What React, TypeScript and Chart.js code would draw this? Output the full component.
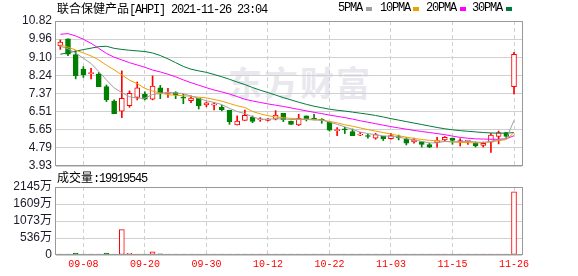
import React, { useEffect, useRef } from 'react';
import { Chart, registerables } from 'chart.js';

Chart.register(...registerables);

const dates = ['09-02','09-03','09-07','09-08','09-09','09-10','09-13','09-14','09-15','09-16','09-17','09-20','09-21','09-22','09-23','09-24','09-27','09-28','09-29','09-30','10-01','10-04','10-05','10-06','10-07','10-08','10-11','10-12','10-13','10-14','10-15','10-18','10-19','10-20','10-21','10-22','10-25','10-26','10-27','10-28','10-29','11-01','11-02','11-03','11-04','11-05','11-08','11-09','11-10','11-11','11-12','11-15','11-16','11-17','11-18','11-19','11-22','11-23','11-24','11-26'];

const opens = [9.63,9.97,9.22,8.54,8.32,8.30,7.70,7.02,6.53,6.80,7.19,7.34,7.10,7.64,7.38,7.42,7.21,7.04,7.15,6.83,6.82,6.72,6.58,5.88,6.10,6.24,6.12,6.10,6.15,6.43,6.05,5.88,6.31,6.20,6.13,6.02,5.61,5.67,5.56,5.39,5.36,5.25,5.34,5.23,5.33,5.21,5.07,5.09,4.95,5.04,5.17,5.26,5.07,5.10,5.01,4.91,5.06,5.33,5.52,7.70];
const highs = [9.92,9.97,9.41,8.65,8.57,8.37,7.78,7.07,8.45,7.50,7.92,7.46,8.21,7.76,7.62,7.46,7.34,7.27,7.15,6.97,6.94,6.81,6.58,6.31,6.59,6.31,6.23,6.20,6.56,6.43,6.07,6.39,6.31,6.39,6.18,6.02,5.75,5.77,5.69,5.53,5.44,5.48,5.34,5.48,5.40,5.28,5.26,5.09,5.01,5.29,5.33,5.26,5.23,5.14,5.07,5.07,5.48,5.59,5.52,9.33];
const lows = [9.47,9.17,8.07,8.14,8.07,7.70,6.99,6.42,6.23,6.72,7.07,7.07,7.07,7.13,7.19,7.13,6.89,6.94,6.64,6.74,6.59,6.55,5.91,5.88,6.10,5.99,6.05,6.07,6.12,6.04,5.90,5.85,6.07,6.12,5.96,5.59,5.37,5.47,5.37,5.37,5.25,5.20,5.14,5.20,5.17,4.93,5.01,4.83,4.80,4.83,5.10,4.96,4.88,4.95,4.83,4.83,4.58,4.98,5.25,7.35];
const closes = [9.82,9.24,8.22,8.26,8.35,7.70,7.07,6.42,7.15,7.38,7.65,7.10,7.73,7.35,7.43,7.32,7.15,7.16,6.78,6.93,6.88,6.59,6.04,6.07,6.34,6.05,6.15,6.16,6.35,6.12,5.90,6.20,6.16,6.12,6.11,5.63,5.64,5.65,5.37,5.45,5.33,5.42,5.23,5.37,5.26,5.01,5.17,4.96,4.83,5.14,5.29,5.14,5.14,5.12,4.88,5.01,5.40,5.52,5.33,9.24];

const ma5 = [9.62,9.50,9.30,9.05,8.80,8.42,8.02,7.64,7.42,7.22,7.15,7.15,7.33,7.38,7.43,7.40,7.37,7.25,7.14,7.03,6.95,6.85,6.67,6.52,6.42,6.27,6.15,6.15,6.18,6.16,6.14,6.14,6.14,6.12,6.10,6.02,5.91,5.79,5.67,5.54,5.47,5.42,5.36,5.34,5.30,5.23,5.17,5.10,5.03,5.03,5.10,5.08,5.09,5.11,5.07,5.05,5.10,5.18,5.23,6.10];
const ma10 = [9.68,9.58,9.44,9.30,9.16,8.97,8.72,8.50,8.26,8.01,7.84,7.62,7.49,7.40,7.32,7.29,7.27,7.24,7.20,7.17,7.09,7.01,6.90,6.79,6.71,6.52,6.41,6.32,6.26,6.23,6.19,6.17,6.16,6.14,6.12,6.05,5.98,5.89,5.82,5.74,5.66,5.59,5.52,5.45,5.37,5.30,5.24,5.19,5.15,5.13,5.10,5.07,5.05,5.04,5.03,5.04,5.08,5.13,5.19,5.52];
const ma20 = [10.19,10.22,10.11,9.95,9.76,9.52,9.28,9.10,8.97,8.84,8.73,8.62,8.49,8.40,8.29,8.17,8.02,7.89,7.77,7.65,7.54,7.45,7.35,7.23,7.10,7.02,6.95,6.88,6.82,6.76,6.69,6.62,6.55,6.48,6.42,6.35,6.29,6.23,6.16,6.08,6.01,5.94,5.87,5.80,5.74,5.68,5.62,5.57,5.52,5.47,5.42,5.35,5.29,5.25,5.22,5.21,5.20,5.20,5.22,5.37];
const ma30 = [9.24,9.31,9.39,9.46,9.53,9.60,9.62,9.52,9.47,9.43,9.40,9.37,9.30,9.18,9.02,8.84,8.66,8.53,8.45,8.38,8.28,8.17,8.05,7.92,7.80,7.66,7.53,7.42,7.30,7.18,7.07,6.96,6.86,6.77,6.70,6.63,6.58,6.54,6.49,6.44,6.39,6.33,6.26,6.18,6.11,6.04,5.97,5.90,5.83,5.76,5.70,5.65,5.61,5.58,5.55,5.52,5.50,5.49,5.49,5.52];

const volumes = [300000,280000,600000,260000,250000,240000,580000,270000,8000000,520000,300000,260000,1000000,350000,240000,220000,230000,210000,240000,200000,220000,210000,250000,230000,220000,200000,190000,210000,240000,230000,200000,220000,190000,180000,170000,210000,200000,190000,220000,180000,170000,190000,180000,200000,170000,210000,190000,200000,180000,210000,200000,190000,200000,180000,190000,200000,260000,230000,210000,19919545];

const gridDates = ['09-08','09-20','09-30','10-12','10-22','11-03','11-15','11-26'];
const priceTickLabels = ['3.93','4.79','5.65','6.51','7.37','8.24','9.10','9.96','10.82'];
const volumeTickValues = [0, 5362500, 10725000, 16087500, 21450000];
const volumeTickLabels = ['0','536万','1073万','1609万','2145万'];
const seriesNames = ['5PMA','10PMA','20PMA','30PMA'];
const seriesColors = ['#a0a0a0','#f0a000','#ff00ff','#007a3a'];

const RED = '#ff0000';
const GREEN = '#008000';
const X_MIN = -0.56;
const X_MAX = 60.04;

const framePlugin = {
  id: 'frame',
  afterDraw(chart: any) {
    const { ctx, chartArea: a } = chart;
    ctx.save();
    ctx.strokeStyle = '#999999';
    ctx.lineWidth = 1;
    ctx.setLineDash([]);
    const l = Math.round(a.left) - 0.5;
    const t = Math.round(a.top) + 0.5;
    const r = Math.round(a.right) + 0.5;
    const b = Math.round(a.bottom) - 0.5;
    ctx.strokeRect(l, t, r - l, b - t);
    ctx.restore();
  },
};

export default function App() {
  const priceRef = useRef<HTMLCanvasElement>(null);
  const volRef = useRef<HTMLCanvasElement>(null);

  useEffect(() => {
    const idx = dates.map((_, i) => i);
    const up = idx.map((i) => closes[i] >= opens[i]);
    const gridIdx = gridDates.map((d) => dates.indexOf(d));

    const xScale = (showLabels: boolean, height: number) => ({
      type: 'linear',
      min: X_MIN,
      max: X_MAX,
      offset: false,
      afterBuildTicks: (s: any) => {
        s.ticks = gridIdx.map((v) => ({ value: v }));
      },
      afterFit: (s: any) => {
        s.height = height;
      },
      ticks: showLabels
        ? {
            display: true,
            autoSkip: false,
            maxRotation: 0,
            color: RED,
            padding: 3,
            font: { family: "'Liberation Mono', monospace", size: 10 },
            callback: (v: number) => dates[v] ?? '',
          }
        : { display: false },
      grid: { color: '#d0d0d0', drawTicks: false, offset: false, lineWidth: 1 },
      border: { display: false, dash: [4, 3] },
    });

    const lineDs = (data: number[], color: string) => ({
      type: 'line',
      data: data.map((y, i) => ({ x: i, y })),
      borderColor: color,
      borderWidth: 1,
      pointRadius: 0,
      fill: false,
      tension: 0,
      order: 0,
    });

    const priceChart = new Chart(priceRef.current as HTMLCanvasElement, {
      type: 'bar',
      data: {
        datasets: [
          lineDs(ma5, seriesColors[0]),
          lineDs(ma10, seriesColors[1]),
          lineDs(ma20, seriesColors[2]),
          lineDs(ma30, seriesColors[3]),
          {
            type: 'bar',
            data: idx.map((i) => ({ x: i, y: [opens[i], closes[i]] })),
            backgroundColor: idx.map((i) => (up[i] ? '#ffffff' : GREEN)),
            borderColor: idx.map((i) => (up[i] ? RED : GREEN)),
            borderWidth: 1,
            borderSkipped: false,
            barThickness: 5,
            minBarLength: 1,
            grouped: false,
            order: 1,
          },
          {
            type: 'bar',
            data: idx.map((i) => ({ x: i, y: [lows[i], highs[i]] })),
            backgroundColor: idx.map((i) => (up[i] ? RED : GREEN)),
            borderWidth: 0,
            barThickness: 1,
            grouped: false,
            order: 2,
          },
        ] as any,
      },
      options: {
        responsive: false,
        devicePixelRatio: 1,
        animation: false,
        layout: { padding: { left: 0, right: 56, top: 21, bottom: 110 } },
        plugins: { legend: { display: false }, tooltip: { enabled: false } },
        scales: {
          x: xScale(false, 0) as any,
          y: {
            type: 'linear',
            position: 'left',
            min: 3.93,
            max: 10.82,
            afterBuildTicks: (s: any) => {
              s.ticks = priceTickLabels.map((l) => ({ value: parseFloat(l) }));
            },
            afterFit: (s: any) => {
              s.width = 56;
            },
            ticks: {
              color: '#1a1a2a',
              padding: 4,
              autoSkip: false,
              font: { family: "'Liberation Sans', Arial, sans-serif", size: 12 },
              callback: (_v: any, i: number) => priceTickLabels[i],
            },
            grid: { color: '#d0d0d0', drawTicks: false },
            border: { display: false },
          },
        },
      },
      plugins: [framePlugin],
    });

    const volChart = new Chart(volRef.current as HTMLCanvasElement, {
      type: 'bar',
      data: {
        datasets: [
          {
            data: idx.map((i) => ({ x: i, y: volumes[i] })),
            backgroundColor: idx.map((i) => (up[i] ? '#ffffff' : GREEN)),
            borderColor: idx.map((i) => (up[i] ? RED : GREEN)),
            borderWidth: 1,
            borderSkipped: false,
            barThickness: 5,
            minBarLength: 1,
            grouped: false,
          },
        ] as any,
      },
      options: {
        responsive: false,
        devicePixelRatio: 1,
        animation: false,
        layout: { padding: { left: 0, right: 56, top: 187, bottom: 0 } },
        plugins: { legend: { display: false }, tooltip: { enabled: false } },
        scales: {
          x: xScale(true, 21) as any,
          y: {
            type: 'linear',
            position: 'left',
            min: 0,
            max: 21450000,
            afterBuildTicks: (s: any) => {
              s.ticks = volumeTickValues.map((v) => ({ value: v }));
            },
            afterFit: (s: any) => {
              s.width = 56;
            },
            ticks: {
              color: '#1a1a2a',
              padding: 4,
              autoSkip: false,
              font: { family: "'Liberation Sans', 'Noto Sans CJK SC', sans-serif", size: 12 },
              callback: (_v: any, i: number) => volumeTickLabels[i],
            },
            grid: { color: '#d0d0d0', drawTicks: false },
            border: { display: false },
          },
        },
      },
      plugins: [framePlugin],
    });

    return () => {
      priceChart.destroy();
      volChart.destroy();
    };
  }, []);

  const cjk = "'Noto Sans CJK SC', sans-serif";
  const mono = "'Liberation Mono', monospace";
  const legendPos = [
    { text: 338, box: 366 },
    { text: 380, box: 413 },
    { text: 426, box: 460 },
    { text: 472, box: 506 },
  ];

  return (
    <div style={{ position: 'fixed', left: 0, top: 0, width: 578, height: 276, background: '#ffffff', overflow: 'hidden' }}>
      <div
        style={{
          position: 'absolute', left: 228, top: 62, fontFamily: cjk, fontWeight: 700,
          fontSize: 34, lineHeight: '40px', color: '#e8e8ee', letterSpacing: 2, whiteSpace: 'nowrap', zIndex: 0,
        }}
      >
        东方财富
      </div>
      <canvas ref={priceRef} width={578} height={276} style={{ position: 'absolute', left: 0, top: 0, zIndex: 1 }} />
      <canvas ref={volRef} width={578} height={276} style={{ position: 'absolute', left: 0, top: 0, zIndex: 1 }} />
      <div style={{ position: 'absolute', left: 57, top: 1, fontSize: 12, lineHeight: '14px', color: '#000', whiteSpace: 'nowrap', zIndex: 2 }}>
        <span style={{ fontFamily: cjk }}>联合保健产品</span>
        <span style={{ fontFamily: mono, letterSpacing: -1.2 }}>[AHPI] 2021-11-26 23:04</span>
      </div>
      {seriesNames.map((name, i) => (
        <React.Fragment key={name}>
          <div style={{ position: 'absolute', left: legendPos[i].text, top: 1, fontFamily: mono, fontSize: 12, lineHeight: '14px', letterSpacing: -1.2, color: '#000', whiteSpace: 'nowrap', zIndex: 2 }}>
            {name}
          </div>
          <div style={{ position: 'absolute', left: legendPos[i].box, top: 7, width: 6, height: 4, background: seriesColors[i], zIndex: 2 }} />
        </React.Fragment>
      ))}
      <div style={{ position: 'absolute', left: 57, top: 170, fontSize: 12, lineHeight: '14px', color: '#000', whiteSpace: 'nowrap', zIndex: 2 }}>
        <span style={{ fontFamily: cjk }}>成交量</span>
        <span style={{ fontFamily: mono, letterSpacing: -1.2 }}>:19919545</span>
      </div>
    </div>
  );
}
